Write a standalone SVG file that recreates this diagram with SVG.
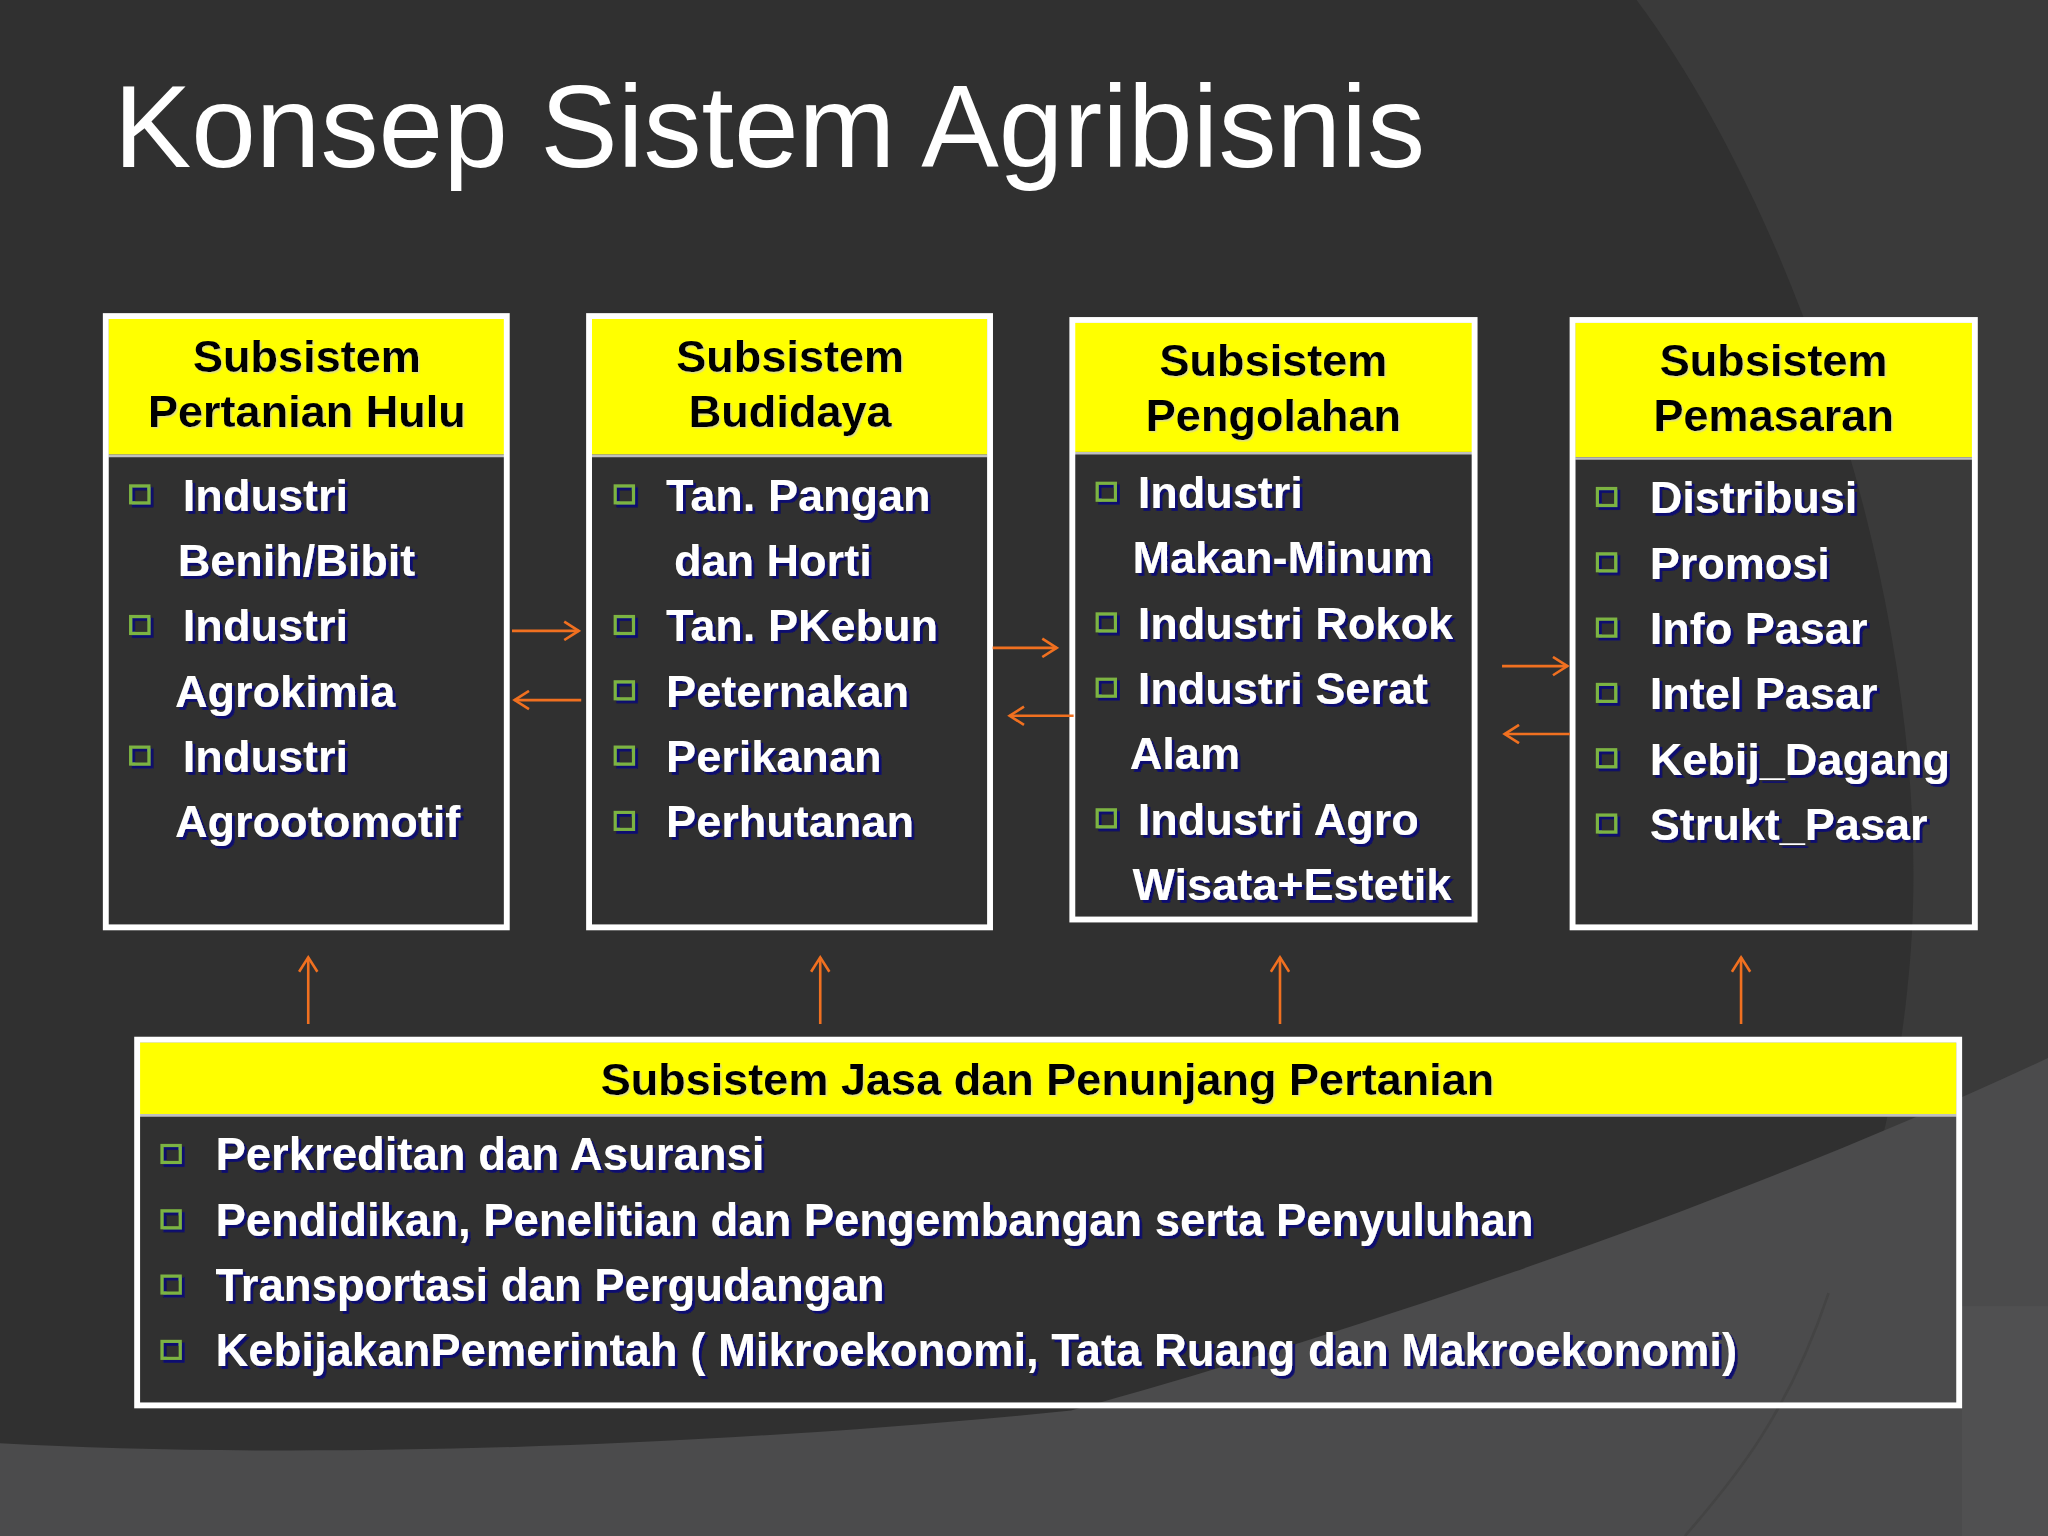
<svg xmlns="http://www.w3.org/2000/svg" width="2048" height="1536" viewBox="0 0 2048 1536">
<defs>
<style>
.title{font-family:"Liberation Sans",Arial,sans-serif;font-size:89px;fill:#ffffff}
.hdr{font-family:"Liberation Sans",Arial,sans-serif;font-weight:bold;font-size:34.5px;fill:#000000;text-anchor:middle}
.item{font-family:"Liberation Sans",Arial,sans-serif;font-weight:bold;font-size:34.5px;fill:#ffffff}
.item2{font-family:"Liberation Sans",Arial,sans-serif;font-weight:bold;font-size:34.8px;fill:#ffffff}
.frame{fill:none;stroke:#ffffff;stroke-width:4.5}
.head{fill:#ffff00}
.sep{stroke:#bfbfbf;stroke-width:2}
.bul{fill:none;stroke:#7cb342;stroke-width:2.4}
.conn{stroke:#f07020;stroke-width:2;fill:none;marker-end:url(#ah)}
</style>
<filter id="sh" x="-10%" y="-30%" width="130%" height="170%">
<feDropShadow dx="2.2" dy="2.2" stdDeviation="0.6" flood-color="#0b0b70" flood-opacity="1"/>
</filter>
<filter id="hsh" x="-10%" y="-30%" width="130%" height="170%">
<feDropShadow dx="1.2" dy="1.2" stdDeviation="0.5" flood-color="#d8d8a0" flood-opacity="0.8"/>
</filter>
<marker id="ah" viewBox="0 0 14 16" refX="12" refY="8" markerWidth="14" markerHeight="16" markerUnits="userSpaceOnUse" orient="auto">
<path d="M1,1 L12,8 L1,15" fill="none" stroke="#f07020" stroke-width="2"/>
</marker>
</defs>
<g transform="scale(1.306122)">
<g id="background">
<rect x="0" y="0" width="1568" height="1176" fill="#303030"/>
<path d="M1253,0 C1380,170 1490,500 1460,760 C1440,950 1370,1080 1290,1176 L1568,1176 L1568,0 Z" fill="#3a3a3a"/>
<path d="M0,1105 C200,1116 500,1112 820,1080 C1000,1030 1300,935 1568,810 L1568,1176 L0,1176 Z" fill="#4b4b4c"/>
<path d="M1400,990 C1370,1080 1330,1130 1290,1176" fill="none" stroke="#444" stroke-width="2"/>
<rect x="1502" y="1000" width="66" height="176" fill="#505051"/>
</g>
<text class="title" x="87" y="128">Konsep Sistem Agribisnis</text>

<g id="node-hulu">
<rect class="head" x="83" y="244" width="303" height="104"/>
<line class="sep" x1="83" y1="349" x2="386" y2="349"/>
<rect class="frame" x="81" y="242" width="307" height="468"/>
<g filter="url(#hsh)">
<text class="hdr" x="235" y="285">Subsistem</text>
<text class="hdr" x="235" y="327">Pertanian Hulu</text>
</g>
<g filter="url(#sh)">
<rect class="bul" x="100" y="372" width="14" height="13"/>
<rect class="bul" x="100" y="472" width="14" height="13"/>
<rect class="bul" x="100" y="572" width="14" height="13"/>
<text class="item" x="140" y="391">Industri</text>
<text class="item" x="136" y="441">Benih/Bibit</text>
<text class="item" x="140" y="491">Industri</text>
<text class="item" x="134" y="541">Agrokimia</text>
<text class="item" x="140" y="591">Industri</text>
<text class="item" x="134" y="641">Agrootomotif</text>
</g>
</g>

<g id="node-budidaya">
<rect class="head" x="453" y="244" width="303" height="104"/>
<line class="sep" x1="453" y1="349" x2="756" y2="349"/>
<rect class="frame" x="451" y="242" width="307" height="468"/>
<g filter="url(#hsh)">
<text class="hdr" x="605" y="285">Subsistem</text>
<text class="hdr" x="605" y="327">Budidaya</text>
</g>
<g filter="url(#sh)">
<rect class="bul" x="471" y="372" width="14" height="13"/>
<rect class="bul" x="471" y="472" width="14" height="13"/>
<rect class="bul" x="471" y="522" width="14" height="13"/>
<rect class="bul" x="471" y="572" width="14" height="13"/>
<rect class="bul" x="471" y="622" width="14" height="13"/>
<text class="item" x="510" y="391">Tan. Pangan</text>
<text class="item" x="516" y="441">dan Horti</text>
<text class="item" x="510" y="491">Tan. PKebun</text>
<text class="item" x="510" y="541">Peternakan</text>
<text class="item" x="510" y="591">Perikanan</text>
<text class="item" x="510" y="641">Perhutanan</text>
</g>
</g>

<g id="node-pengolahan">
<rect class="head" x="823" y="247" width="304" height="99"/>
<line class="sep" x1="823" y1="347" x2="1127" y2="347"/>
<rect class="frame" x="821" y="245" width="308" height="459"/>
<g filter="url(#hsh)">
<text class="hdr" x="975" y="288">Subsistem</text>
<text class="hdr" x="975" y="330">Pengolahan</text>
</g>
<g filter="url(#sh)">
<rect class="bul" x="840" y="370" width="14" height="13"/>
<rect class="bul" x="840" y="470" width="14" height="13"/>
<rect class="bul" x="840" y="520" width="14" height="13"/>
<rect class="bul" x="840" y="620" width="14" height="13"/>
<text class="item" x="871" y="389">Industri</text>
<text class="item" x="867" y="439">Makan-Minum</text>
<text class="item" x="871" y="489">Industri Rokok</text>
<text class="item" x="871" y="539">Industri Serat</text>
<text class="item" x="865" y="589">Alam</text>
<text class="item" x="871" y="639">Industri Agro</text>
<text class="item" x="867" y="689">Wisata+Estetik</text>
</g>
</g>

<g id="node-pemasaran">
<rect class="head" x="1206" y="247" width="304" height="103"/>
<line class="sep" x1="1206" y1="351" x2="1510" y2="351"/>
<rect class="frame" x="1204" y="245" width="308" height="465"/>
<g filter="url(#hsh)">
<text class="hdr" x="1358" y="288">Subsistem</text>
<text class="hdr" x="1358" y="330">Pemasaran</text>
</g>
<g filter="url(#sh)">
<rect class="bul" x="1223" y="374" width="14" height="13"/>
<rect class="bul" x="1223" y="424" width="14" height="13"/>
<rect class="bul" x="1223" y="474" width="14" height="13"/>
<rect class="bul" x="1223" y="524" width="14" height="13"/>
<rect class="bul" x="1223" y="574" width="14" height="13"/>
<rect class="bul" x="1223" y="624" width="14" height="13"/>
<text class="item" x="1263" y="393">Distribusi</text>
<text class="item" x="1263" y="443">Promosi</text>
<text class="item" x="1263" y="493">Info Pasar</text>
<text class="item" x="1263" y="543">Intel Pasar</text>
<text class="item" x="1263" y="593">Kebij_Dagang</text>
<text class="item" x="1263" y="643">Strukt_Pasar</text>
</g>
</g>

<g id="node-jasa">
<rect class="head" x="107" y="798" width="1391" height="55"/>
<line class="sep" x1="107" y1="854" x2="1498" y2="854"/>
<rect class="frame" x="105" y="796" width="1395" height="280"/>
<g filter="url(#hsh)">
<text class="hdr" x="802" y="838">Subsistem Jasa dan Penunjang Pertanian</text>
</g>
<g filter="url(#sh)">
<rect class="bul" x="124" y="877" width="14" height="13"/>
<rect class="bul" x="124" y="927" width="14" height="13"/>
<rect class="bul" x="124" y="977" width="14" height="13"/>
<rect class="bul" x="124" y="1027" width="14" height="13"/>
<text class="item2" x="165" y="896">Perkreditan dan Asuransi</text>
<text class="item2" x="165" y="946">Pendidikan, Penelitian dan Pengembangan serta Penyuluhan</text>
<text class="item2" x="165" y="996">Transportasi dan Pergudangan</text>
<text class="item2" x="165" y="1046">KebijakanPemerintah ( Mikroekonomi, Tata Ruang dan Makroekonomi)</text>
</g>
</g>

<g id="connectors">
<line class="conn" x1="392" y1="483" x2="443" y2="483"/>
<line class="conn" x1="445" y1="536" x2="394" y2="536"/>
<line class="conn" x1="760" y1="496" x2="809" y2="496"/>
<line class="conn" x1="822" y1="548" x2="773" y2="548"/>
<line class="conn" x1="1150" y1="510" x2="1200" y2="510"/>
<line class="conn" x1="1202" y1="562" x2="1152" y2="562"/>
<line class="conn" x1="236" y1="784" x2="236" y2="733"/>
<line class="conn" x1="628" y1="784" x2="628" y2="733"/>
<line class="conn" x1="980" y1="784" x2="980" y2="733"/>
<line class="conn" x1="1333" y1="784" x2="1333" y2="733"/>
</g>
</g>
</svg>
